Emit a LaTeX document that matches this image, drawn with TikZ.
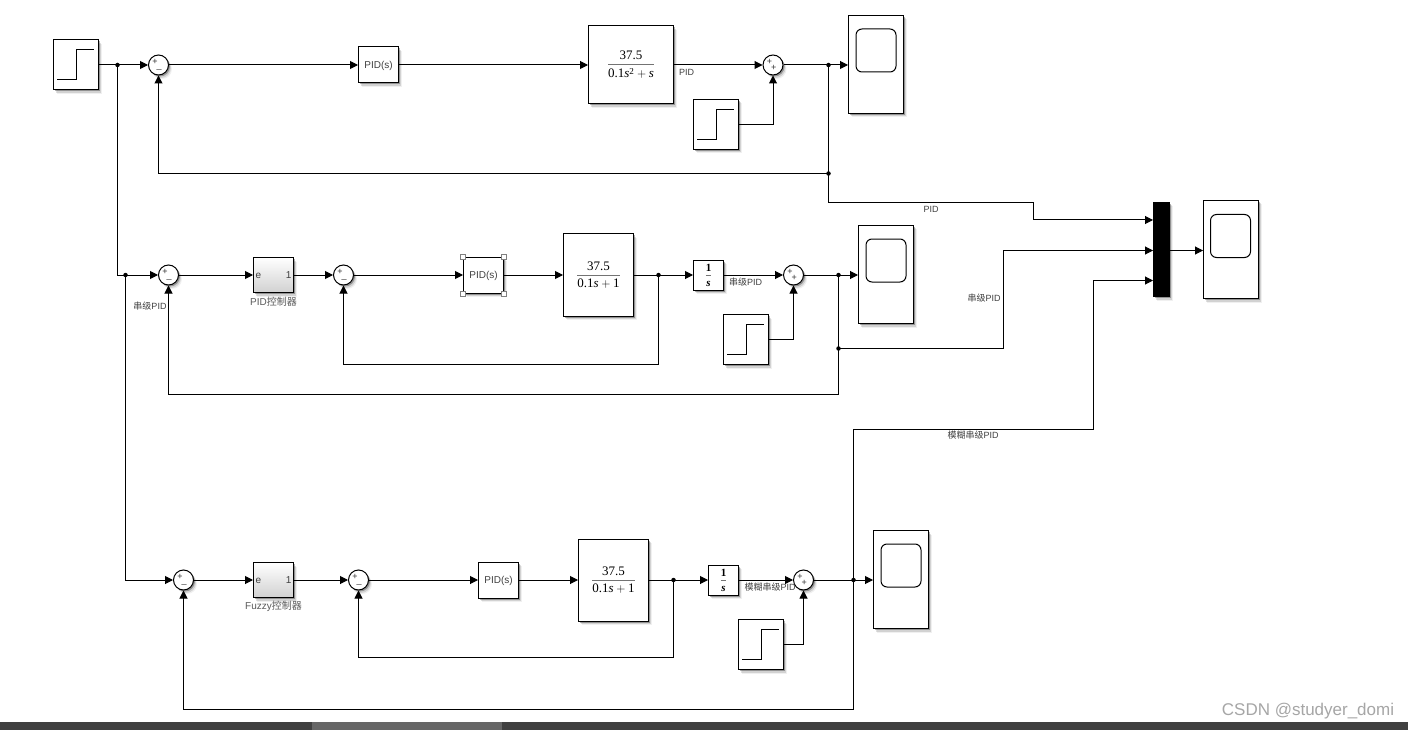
\documentclass[tikz,border=0pt]{standalone}
\usepackage{amsmath}
\usepackage{xcolor}
\usepackage{fontspec}
\usepackage{tikz}
\setmainfont{Liberation Sans}
\newfontfamily\cjk{Noto Sans CJK SC}
\newfontfamily\tffont{Liberation Serif}
\usetikzlibrary{calc}
\usetikzlibrary{arrows.meta}
\usetikzlibrary{shadows}
\newcommand{\tfnum}[1]{\text{\tffont #1}}
\newcommand{\tfvar}[1]{\text{\tffont\itshape #1}}
\newcommand{\tfbold}[1]{\text{\tffont\bfseries #1}}
\newcommand{\tfbox}[2]{{\color{black!55}\genfrac{}{}{1pt}{0}{\textcolor{black}{#1}}{\textcolor{black}{#2}}}}
\newcommand{\signpm}{\raisebox{0.5pt}{+}\kern-1pt\raisebox{-4pt}{\_}\kern3pt}
\newcommand{\signpp}{\raisebox{0.5pt}{+}\kern-1pt\raisebox{-5pt}{+}\kern3pt}
\tikzset{
	soft/.style={drop shadow={shadow xshift=3.5pt,shadow yshift=-4pt,fill=black,opacity=.06},
		drop shadow={shadow xshift=2.5pt,shadow yshift=-3pt,fill=black,opacity=.12},
		drop shadow={shadow xshift=1.5pt,shadow yshift=-1.5pt,fill=black,opacity=.3}},
	blockbox/.style={draw,fill=white,line width=1pt,inner sep=0pt,soft,font=\fontsize{10}{11}\selectfont,text=black!75},
	stepbox/.style={blockbox,minimum width=45pt,minimum height=50pt},
	pidbox/.style={blockbox,minimum width=40pt,minimum height=36pt,text height=7pt,text depth=0pt},
	ctrlbox/.style={blockbox,minimum width=40pt,minimum height=35pt,top color=white,bottom color=black!18,text height=7pt,text depth=0pt},
	intbox/.style={blockbox,minimum size=30pt},
	scopebox/.style={blockbox,minimum width=55pt,minimum height=98pt},
	screen/.style={draw,line width=1pt,rounded corners=6pt,minimum width=40pt,minimum height=43pt,inner sep=0pt},
	sumnode/.style={circle,blockbox,minimum size=20pt,font=\fontsize{9}{9}\selectfont,text=black!80},
	jdot/.style={circle,fill=black,inner sep=0pt,minimum size=4.5pt},
	sig/.style={-{Triangle[length=8pt,width=8pt]}},
	wire/.style={line width=1pt},
	handle/.style={draw=black!50,fill=white,line width=.8pt,inner sep=0pt,minimum size=5pt},
	siglabel/.style={inner sep=0pt,font=\fontsize{9}{10}\selectfont,text=black!75},
	blocklabel/.style={inner sep=0pt,font=\fontsize{10}{11}\selectfont,text=black!65}
}
\begin{document}
\begin{tikzpicture}[x=1pt,y=-1pt,wire]
	\useasboundingbox (0,0) rectangle (1408,730);
	\fill[white] (0,0) rectangle (1408,730);
	\fill[black!75] (0,722) rectangle (1408,730);
	\fill[black!60] (312,722) rectangle (502,730);
	\node[inner sep=0pt,font=\fontsize{17}{18}\selectfont,text=black!35] (mark) at (1308,711.5) {CSDN @studyer\_domi};

	\node[stepbox] (step1) at (76,65) {};
	\node[sumnode] (sum1) at (158.5,65) {\signpm};
	\node[pidbox] (pid1) at (378.5,65) {PID(s)};
	\node[blockbox,minimum width=85pt,minimum height=78pt] (tf1) at (631,65) {\fontsize{13}{15}\selectfont$\tfbox{\tfnum{37.5}}{\tfnum{0.1}\tfvar{s}^{\tfnum{2}}+\tfvar{s}}$};
	\node[sumnode] (sum2) at (773,65) {\signpp};
	\node[stepbox] (step2) at (716,124.5) {};
	\node[scopebox] (scope1) at (876,64.5) {};
	\node[screen] (screen1) at (876,50.5) {};
	\node[jdot] (j1) at (117.5,65) {};
	\node[jdot] (j3) at (828.5,65) {};
	\node[jdot] (j4) at (828.5,173.5) {};

	\node[sumnode] (sum3) at (168.5,275) {\signpm};
	\node[ctrlbox] (ctrl2) at (273.5,275) {\makebox[36pt]{e\hfill 1}};
	\node[blocklabel] (ctrl2lab) at (273.5,301.5) {PID{\cjk 控制器}};
	\node[sumnode] (sum4) at (343.5,275) {\signpm};
	\node[pidbox] (pid2) at (483.5,275) {PID(s)};
	\node[handle] (h1) at (pid2.north west) {};
	\node[handle] (h2) at (pid2.north east) {};
	\node[handle] (h3) at (pid2.south west) {};
	\node[handle] (h4) at (pid2.south east) {};
	\node[blockbox,minimum width=70pt,minimum height=82pt] (tf2) at (598.5,275) {\fontsize{13}{15}\selectfont$\tfbox{\tfnum{37.5}}{\tfnum{0.1}\tfvar{s}+\tfnum{1}}$};
	\node[intbox] (int2) at (708.5,275) {\fontsize{11}{13}\selectfont$\tfbox{\tfbold{1}}{\text{\tffont\bfseries\itshape s}}$};
	\node[sumnode] (sum5) at (793.5,275) {\signpp};
	\node[stepbox] (step3) at (746,339.5) {};
	\node[scopebox] (scope2) at (886,274.5) {};
	\node[screen] (screen2) at (886,260.5) {};
	\node[jdot] (j2) at (125.5,275) {};
	\node[jdot] (j5) at (658.5,275) {};
	\node[jdot] (j6) at (838.5,275) {};
	\node[jdot] (j7) at (838.5,348.5) {};

	\node[sumnode] (sum6) at (183.5,580) {\signpm};
	\node[ctrlbox] (ctrl3) at (273.5,580) {\makebox[36pt]{e\hfill 1}};
	\node[blocklabel] (ctrl3lab) at (273.5,606) {Fuzzy{\cjk 控制器}};
	\node[sumnode] (sum7) at (358.5,580) {\signpm};
	\node[pidbox] (pid3) at (498.5,580) {PID(s)};
	\node[blockbox,minimum width=70pt,minimum height=82pt] (tf3) at (613.5,580) {\fontsize{13}{15}\selectfont$\tfbox{\tfnum{37.5}}{\tfnum{0.1}\tfvar{s}+\tfnum{1}}$};
	\node[intbox] (int3) at (723.5,580) {\fontsize{11}{13}\selectfont$\tfbox{\tfbold{1}}{\text{\tffont\bfseries\itshape s}}$};
	\node[sumnode] (sum8) at (803.5,580) {\signpp};
	\node[stepbox] (step4) at (761,644.5) {};
	\node[scopebox] (scope4) at (901,579.5) {};
	\node[screen] (screen4) at (901,565.5) {};
	\node[jdot] (j8) at (673.5,580) {};
	\node[jdot] (j10) at (853.5,580) {};

	\node[blockbox,fill=black,minimum width=16pt,minimum height=94pt] (mux) at (1161,249.5) {};
	\node[scopebox] (scope3) at (1231,249.5) {};
	\node[screen] (screen3) at (1230.5,236) {};

	\draw (step1.center) ++(-19,15) -- ++(19,0) -- ++(0,-30) -- ++(18,0);
	\draw (step2.center) ++(-19,15) -- ++(19,0) -- ++(0,-30) -- ++(18,0);
	\draw (step3.center) ++(-19,15) -- ++(19,0) -- ++(0,-30) -- ++(18,0);
	\draw (step4.center) ++(-19,15) -- ++(19,0) -- ++(0,-30) -- ++(18,0);

	\coordinate (bend1) at (1033.5,203);
	\coordinate (bend2) at (1003.5,348.5);
	\coordinate (bend3) at (853.5,429);
	\coordinate (bend4) at (1093.5,429);
	\coordinate (bend5) at (853.5,709.5);
	\coordinate (bend6) at (658.5,364.5);
	\coordinate (bend7) at (838.5,394.5);
	\coordinate (bend8) at (673.5,657.5);
	\coordinate (muxin1) at (1153,220);
	\coordinate (muxin2) at (1153,250.5);
	\coordinate (muxin3) at (1153,280.5);
	\coordinate (muxout) at (1169,250.5);

	\draw[sig] (step1.east) -- (sum1.west);
	\draw[sig] (sum1.east) -- (pid1.west);
	\draw[sig] (pid1.east) -- (tf1.west);
	\draw[sig] (tf1.east) -- (sum2.west);
	\draw[sig] (sum2.east) -- (scope1.west |- sum2.east);
	\draw[sig] (step2.east) -| (sum2.south);
	\draw (j3.center) -- (j4.center);
	\draw[sig] (j4.center) -| (sum1.south);
	\draw[sig] (j4.center) |- (bend1) |- (muxin1);

	\draw (j1.center) |- (j2.center);
	\draw[sig] (j2.center) -- (sum3.west);
	\draw[sig] (j2.center) |- (sum6.west);
	\draw[sig] (sum3.east) -- (ctrl2.west);
	\draw[sig] (ctrl2.east) -- (sum4.west);
	\draw[sig] (sum4.east) -- (pid2.west);
	\draw[sig] (pid2.east) -- (tf2.west);
	\draw[sig] (tf2.east) -- (int2.west);
	\draw[sig] (int2.east) -- (sum5.west);
	\draw[sig] (sum5.east) -- (scope2.west |- sum5.east);
	\draw[sig] (step3.east) -| (sum5.south);
	\draw[sig] (j5.center) -- (bend6) -| (sum4.south);
	\draw (j6.center) -- (j7.center);
	\draw[sig] (j7.center) -- (bend7) -| (sum3.south);
	\draw[sig] (j7.center) -- (bend2) |- (muxin2);

	\draw[sig] (sum6.east) -- (ctrl3.west);
	\draw[sig] (ctrl3.east) -- (sum7.west);
	\draw[sig] (sum7.east) -- (pid3.west);
	\draw[sig] (pid3.east) -- (tf3.west);
	\draw[sig] (tf3.east) -- (int3.west);
	\draw[sig] (int3.east) -- (sum8.west);
	\draw[sig] (sum8.east) -- (scope4.west |- sum8.east);
	\draw[sig] (step4.east) -| (sum8.south);
	\draw[sig] (j8.center) -- (bend8) -| (sum7.south);
	\draw[sig] (j10.center) -- (bend3) -- (bend4) |- (muxin3);
	\draw[sig] (j10.center) -- (bend5) -| (sum6.south);

	\draw[sig] (muxout) -- (scope3.west |- muxout);

	\node[siglabel] (lab1) at (686.5,72) {PID};
	\node[siglabel] (lab2) at (931,209) {PID};
	\node[siglabel] (lab3) at (150,306) {{\cjk 串级}PID};
	\node[siglabel] (lab4) at (745.5,282) {{\cjk 串级}PID};
	\node[siglabel] (lab5) at (984,298) {{\cjk 串级}PID};
	\node[siglabel] (lab6) at (973,435) {{\cjk 模糊串级}PID};
	\node[siglabel] (lab7) at (770,587) {{\cjk 模糊串级}PID};
\end{tikzpicture}
\end{document}
